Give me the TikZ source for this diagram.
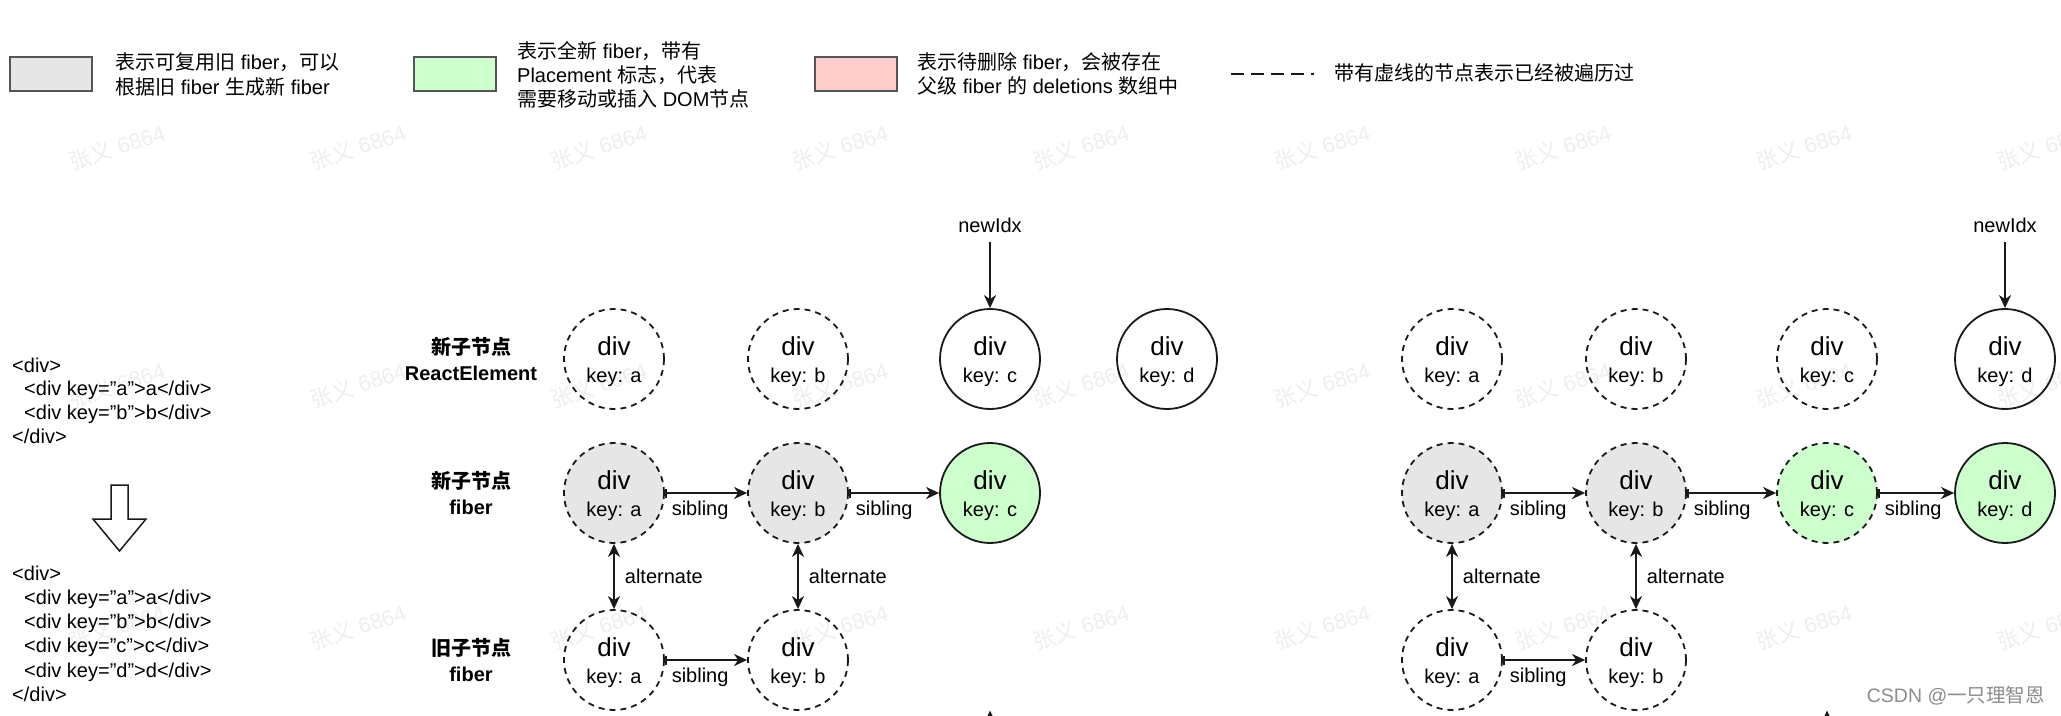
\documentclass[tikz,border=0pt]{standalone}
\usepackage{fontspec}
\setmainfont{Liberation Sans}
\newfontfamily\cjkfont{Noto Sans CJK SC}
\usetikzlibrary{arrows.meta,calc}

\definecolor{reusefill}{HTML}{E6E6E6}
\definecolor{newfill}{HTML}{CCFFCC}
\definecolor{delfill}{HTML}{FFCCCC}
\definecolor{inkline}{HTML}{1A1A1A}
\definecolor{boxline}{HTML}{555555}

% Chinese runs are switched to the CJK family by hand
\newcommand\zh[1]{{\cjkfont #1}}

% one fiber / element circle: name, x, y, key, extra style
\newcommand\fibnode[5]{%
  \node[fib,#5] (#1) at (#2,#3) {};
  \node[divtext] (#1-tag) at ($(#1.center)+(0,-4)$) {div};
  \node[keytext] (#1-key) at ($(#1.center)+(0,23)$) {key: #4};
}

\tikzset{
  txt/.style={font=\fontsize{20}{24}\selectfont, inner sep=0pt},
  fib/.style={circle, minimum size=100pt, inner sep=0pt, draw=inkline, line width=1.8pt, fill=white},
  seen/.style={dash pattern=on 6pt off 5pt},
  reuse/.style={fill=reusefill},
  fresh/.style={fill=newfill},
  divtext/.style={font=\fontsize{26}{30}\selectfont, inner sep=0pt, anchor=base},
  keytext/.style={font=\fontsize{20}{24}\selectfont, inner sep=0pt, anchor=base},
  rowlabel/.style={font=\fontsize{20}{24}\selectfont\bfseries, inner sep=0pt, anchor=base},
  link/.style={line width=1.8pt, draw=inkline},
  pointer/.style={link, arrows={-Stealth[length=13pt,width=12pt,inset=4pt]}},
  sibling/.style={link, arrows={Bar[width=9pt]-Stealth[length=13pt,width=12pt,inset=4pt]}},
  alternate/.style={link, arrows={Stealth[length=13pt,width=12pt,inset=4pt]-Stealth[length=13pt,width=12pt,inset=4pt]}},
  edgetext/.style={font=\fontsize{20}{24}\selectfont, inner sep=0pt, anchor=base west},
  legendbox/.style={draw=boxline, line width=1.6pt, minimum width=82pt, minimum height=34pt, inner sep=0pt},
  legendtext/.style={font=\fontsize{20}{24}\selectfont, inner sep=0pt, anchor=base west},
  codetext/.style={font=\fontsize{20}{24}\selectfont, inner sep=0pt, anchor=base west},
  wmark/.style={font=\fontsize{22}{26}\selectfont, text=black, opacity=0.065, rotate=18, inner sep=0pt},
}

\begin{document}
\begin{tikzpicture}[x=1pt, y=-1pt]
\useasboundingbox[fill=white] (0,0) rectangle (2061,715);

% ---------- legend ----------
\node[legendbox, fill=reusefill] (keyReuse) at (51,74) {};
\node[legendtext] (keyReuse-l1) at (115,69) {\zh{表示可复用旧} fiber\zh{，可以}};
\node[legendtext] (keyReuse-l2) at (115,94) {\zh{根据旧} fiber \zh{生成新} fiber};

\node[legendbox, fill=newfill] (keyNew) at (455,74) {};
\node[legendtext] (keyNew-l1) at (517,58) {\zh{表示全新} fiber\zh{，带有}};
\node[legendtext] (keyNew-l2) at (517,82) {Placement \zh{标志，代表}};
\node[legendtext] (keyNew-l3) at (517,106) {\zh{需要移动或插入} DOM\zh{节点}};

\node[legendbox, fill=delfill] (keyDel) at (856,74) {};
\node[legendtext] (keyDel-l1) at (917,69) {\zh{表示待删除} fiber\zh{，会被存在}};
\node[legendtext] (keyDel-l2) at (917,93) {\zh{父级} fiber \zh{的} deletions \zh{数组中}};

\coordinate (dashL) at (1231,74);
\coordinate (dashR) at (1314,74);
\draw[line width=2.8pt, draw=inkline, dash pattern=on 13pt off 7pt] (dashL) -- (dashR);
\node[legendtext] (keyDash) at (1334,80) {\zh{带有虚线的节点表示已经被遍历过}};

% ---------- JSX before / after ----------
\node[codetext] (codeA1) at (12,372) {<div>};
\node[codetext] (codeA2) at (24,395.7) {<div key="a">a</div>};
\node[codetext] (codeA3) at (24,419.4) {<div key="b">b</div>};
\node[codetext] (codeA4) at (12,443.1) {</div>};

\draw[draw=inkline, line width=1.5pt, fill=white, line join=miter]
  (111,485) -- (128,485) -- (128,519) -- (146,519) -- (119.5,551) -- (93,519) -- (111,519) -- cycle;

\node[codetext] (codeB1) at (12,580) {<div>};
\node[codetext] (codeB2) at (24,604.3) {<div key="a">a</div>};
\node[codetext] (codeB3) at (24,628.6) {<div key="b">b</div>};
\node[codetext] (codeB4) at (24,652.9) {<div key="c">c</div>};
\node[codetext] (codeB5) at (24,677.2) {<div key="d">d</div>};
\node[codetext] (codeB6) at (12,701.5) {</div>};

% ---------- row captions ----------
\node[rowlabel] (cap1a) at (471,354.5) {\zh{新子节点}};
\node[rowlabel] (cap1b) at (471,380) {ReactElement};
\node[rowlabel] (cap2a) at (471,488.5) {\zh{新子节点}};
\node[rowlabel] (cap2b) at (471,514) {fiber};
\node[rowlabel] (cap3a) at (471,655.5) {\zh{旧子节点}};
\node[rowlabel] (cap3b) at (471,681) {fiber};

% ---------- step 1: newIdx on c ----------
\fibnode{m1a}{614}{359}{a}{seen}
\fibnode{m1b}{798}{359}{b}{seen}
\fibnode{m1c}{990}{359}{c}{}
\fibnode{m1d}{1167}{359}{d}{}

\fibnode{m2a}{614}{493}{a}{seen,reuse}
\fibnode{m2b}{798}{493}{b}{seen,reuse}
\fibnode{m2c}{990}{493}{c}{fresh}

\fibnode{m3a}{614}{660}{a}{seen}
\fibnode{m3b}{798}{660}{b}{seen}

\node[txt, anchor=base] (midIdx) at (990,232) {newIdx};
\draw[pointer, shorten <=10pt] (midIdx.south) -- (m1c.north);

\draw[sibling] (m2a.east) -- (m2b.west) node[edgetext, pos=0, xshift=6pt, yshift=-22pt] (m2ab) {sibling};
\draw[sibling] (m2b.east) -- (m2c.west) node[edgetext, pos=0, xshift=6pt, yshift=-22pt] (m2bc) {sibling};
\draw[sibling] (m3a.east) -- (m3b.west) node[edgetext, pos=0, xshift=6pt, yshift=-22pt] (m3ab) {sibling};

\draw[alternate] (m2a.south) -- (m3a.north) node[edgetext, pos=0, xshift=10pt, yshift=-40pt] (m23a) {alternate};
\draw[alternate] (m2b.south) -- (m3b.north) node[edgetext, pos=0, xshift=10pt, yshift=-40pt] (m23b) {alternate};

% oldFiber pointer rising from below the frame
\coordinate (midOldTail) at (990,770);
\coordinate (midOldHead) at (990,710.5);
\draw[pointer] (midOldTail) -- (midOldHead);

% ---------- step 2: newIdx on d ----------
\fibnode{r1a}{1452}{359}{a}{seen}
\fibnode{r1b}{1636}{359}{b}{seen}
\fibnode{r1c}{1827}{359}{c}{seen}
\fibnode{r1d}{2005}{359}{d}{}

\fibnode{r2a}{1452}{493}{a}{seen,reuse}
\fibnode{r2b}{1636}{493}{b}{seen,reuse}
\fibnode{r2c}{1827}{493}{c}{seen,fresh}
\fibnode{r2d}{2005}{493}{d}{fresh}

\fibnode{r3a}{1452}{660}{a}{seen}
\fibnode{r3b}{1636}{660}{b}{seen}

\node[txt, anchor=base] (rightIdx) at (2005,232) {newIdx};
\draw[pointer, shorten <=10pt] (rightIdx.south) -- (r1d.north);

\draw[sibling] (r2a.east) -- (r2b.west) node[edgetext, pos=0, xshift=6pt, yshift=-22pt] (r2ab) {sibling};
\draw[sibling] (r2b.east) -- (r2c.west) node[edgetext, pos=0, xshift=6pt, yshift=-22pt] (r2bc) {sibling};
\draw[sibling] (r2c.east) -- (r2d.west) node[edgetext, pos=0, xshift=6pt, yshift=-22pt] (r2cd) {sibling};
\draw[sibling] (r3a.east) -- (r3b.west) node[edgetext, pos=0, xshift=6pt, yshift=-22pt] (r3ab) {sibling};

\draw[alternate] (r2a.south) -- (r3a.north) node[edgetext, pos=0, xshift=10pt, yshift=-40pt] (r23a) {alternate};
\draw[alternate] (r2b.south) -- (r3b.north) node[edgetext, pos=0, xshift=10pt, yshift=-40pt] (r23b) {alternate};

\coordinate (rightOldTail) at (1827,770);
\coordinate (rightOldHead) at (1827,710.5);
\draw[pointer] (rightOldTail) -- (rightOldHead);

% ---------- watermarks ----------
\foreach \wx in {117,358,599,840,1081,1322,1563,1804,2045}
  \foreach \wy in {147,385,627}
    \node[wmark] (wm-\wx-\wy) at (\wx,\wy) {\zh{张义} 6864};

\node[font=\fontsize{19.5}{22}\selectfont, text=black!45, inner sep=0pt, anchor=base east] (csdn) at (2045,702) {CSDN @\zh{一只理智恩}};
\end{tikzpicture}
\end{document}
